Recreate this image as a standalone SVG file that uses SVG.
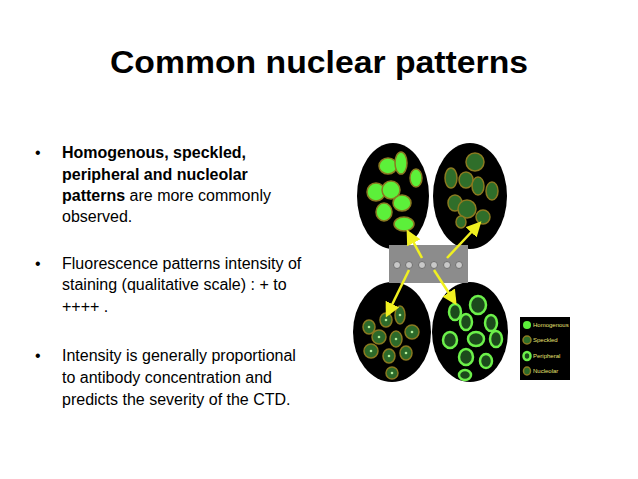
<svg xmlns="http://www.w3.org/2000/svg" width="638" height="479" viewBox="0 0 638 479">
<style>
.t{font-family:"Liberation Sans",Arial,sans-serif;font-size:16px;fill:#000}
.b{font-weight:bold}
.h{fill:#5cf03a;stroke:#8a7a20;stroke-width:1.5}
.s{fill:#2f6e2a;stroke:#8a7a20;stroke-width:1.5}
.p{fill:#1c4a1c;stroke:#6cf04a;stroke-width:2.5}
.n{fill:#2d6a2a;stroke:#8a7a20;stroke-width:1.5}
.d{fill:#b8f0a0}
.ar{stroke:#f0f020;stroke-width:2.5;fill:none;marker-end:url(#ah)}
.lg{font-family:"Liberation Sans",Arial,sans-serif;font-size:6px;fill:#e8e070}
</style>
<defs><marker id="ah" markerWidth="6" markerHeight="6" refX="4" refY="3" orient="auto"><path d="M0,0L6,3L0,6z" fill="#f0f020"/></marker></defs>
<rect width="638" height="479" fill="#fff"/>
<text x="110" y="73" textLength="418" lengthAdjust="spacingAndGlyphs" font-family="'Liberation Sans',Arial,sans-serif" font-weight="bold" font-size="32">Common nuclear patterns</text>
<g id="bullets">
<text class="t" x="35" y="158">•</text>
<text class="t" x="62" y="158"><tspan class="b">Homogenous, speckled,</tspan></text>
<text class="t" x="62" y="180"><tspan class="b">peripheral and nucleolar</tspan></text>
<text class="t" x="62" y="201"><tspan class="b">patterns</tspan> are more commonly</text>
<text class="t" x="62" y="222">observed.</text>
<text class="t" x="35" y="269">•</text>
<text class="t" x="62" y="269">Fluorescence patterns intensity of</text>
<text class="t" x="62" y="290">staining (qualitative scale) : + to</text>
<text class="t" x="62" y="312">++++ .</text>
<text class="t" x="35" y="361">•</text>
<text class="t" x="62" y="361">Intensity is generally proportional</text>
<text class="t" x="62" y="383">to antibody concentration and</text>
<text class="t" x="62" y="405">predicts the severity of the CTD.</text>
</g>
<g id="figure">
<ellipse cx="393" cy="196" rx="36" ry="53"/>
<ellipse cx="470" cy="196" rx="37" ry="53"/>
<ellipse cx="392" cy="332" rx="39" ry="50"/>
<ellipse cx="470" cy="332" rx="38" ry="50"/>
<g id="homog">
<ellipse class="h" cx="376" cy="192" rx="9" ry="9"/><ellipse class="h" cx="388" cy="166" rx="9" ry="8"/>
<ellipse class="h" cx="401" cy="163" rx="6" ry="11"/><ellipse class="h" cx="416" cy="178" rx="6" ry="9"/>
<ellipse class="h" cx="391" cy="190" rx="9" ry="9"/><ellipse class="h" cx="402" cy="203" rx="9" ry="8"/>
<ellipse class="h" cx="384" cy="212" rx="8" ry="9"/><ellipse class="h" cx="404" cy="224" rx="10" ry="7"/>
</g>
<g id="speck">
<ellipse class="s" cx="475" cy="162" rx="9" ry="9"/><ellipse class="s" cx="451" cy="178" rx="6" ry="10"/>
<ellipse class="s" cx="466" cy="180" rx="7" ry="8"/><ellipse class="s" cx="478" cy="186" rx="6" ry="9"/>
<ellipse class="s" cx="492" cy="191" rx="6" ry="9"/><ellipse class="s" cx="455" cy="203" rx="7" ry="8"/>
<ellipse class="s" cx="467" cy="209" rx="9" ry="9"/><ellipse class="s" cx="461" cy="222" rx="5" ry="6"/>
<ellipse class="s" cx="483" cy="217" rx="7" ry="7"/>
</g>
<g id="nucl">
<ellipse class="n" cx="386" cy="320" rx="6" ry="7"/><ellipse class="n" cx="400" cy="315" rx="5" ry="9"/>
<ellipse class="n" cx="369" cy="327" rx="6" ry="7"/><ellipse class="n" cx="379" cy="337" rx="7" ry="7"/>
<ellipse class="n" cx="396" cy="339" rx="6" ry="8"/><ellipse class="n" cx="412" cy="332" rx="7" ry="7"/>
<ellipse class="n" cx="371" cy="351" rx="7" ry="7"/><ellipse class="n" cx="389" cy="356" rx="6" ry="7"/>
<ellipse class="n" cx="406" cy="353" rx="6" ry="7"/><ellipse class="n" cx="392" cy="373" rx="6" ry="6"/>
<g class="d"><circle cx="386" cy="320" r="1.3"/><circle cx="400" cy="315" r="1.3"/><circle cx="369" cy="327" r="1.3"/><circle cx="379" cy="337" r="1.3"/><circle cx="396" cy="339" r="1.3"/><circle cx="412" cy="332" r="1.3"/><circle cx="371" cy="351" r="1.3"/><circle cx="389" cy="356" r="1.3"/><circle cx="406" cy="353" r="1.3"/><circle cx="392" cy="373" r="1.3"/></g>
</g>
<g id="periph">
<ellipse class="p" cx="455" cy="312" rx="6" ry="8"/><ellipse class="p" cx="478" cy="305" rx="8" ry="9"/>
<ellipse class="p" cx="466" cy="322" rx="6" ry="8"/><ellipse class="p" cx="491" cy="323" rx="6" ry="8"/>
<ellipse class="p" cx="450" cy="340" rx="7" ry="8"/><ellipse class="p" cx="476" cy="339" rx="8" ry="7"/>
<ellipse class="p" cx="496" cy="339" rx="6" ry="8"/><ellipse class="p" cx="466" cy="357" rx="7" ry="8"/>
<ellipse class="p" cx="486" cy="361" rx="6" ry="7"/><ellipse class="p" cx="465" cy="375" rx="6" ry="5"/>
</g>
<rect x="389" y="245" width="79" height="38" fill="#8c8c8c"/>
<g fill="#c8c8c8" stroke="#707070" stroke-width="1">
<circle cx="397" cy="265" r="3.5"/><circle cx="409" cy="265" r="3.5"/><circle cx="422" cy="265" r="3.5"/><circle cx="434" cy="265" r="3.5"/><circle cx="447" cy="265" r="3.5"/><circle cx="459" cy="265" r="3.5"/>
</g>
</g>
<g id="connectors">
<line class="ar" x1="422" y1="258" x2="409" y2="234"/>
<line class="ar" x1="447" y1="258" x2="478" y2="225"/>
<line class="ar" x1="409" y1="270" x2="388" y2="313"/>
<line class="ar" x1="434" y1="270" x2="454" y2="301"/>
</g>
<g id="legend">
<rect x="520" y="317" width="50" height="63" fill="#000"/>
<ellipse cx="527" cy="325" rx="4" ry="4" fill="#5cf03a"/><text class="lg" x="533" y="327">Homogenous</text>
<ellipse cx="527" cy="340" rx="4" ry="4" class="s"/><text class="lg" x="533" y="342">Speckled</text>
<ellipse cx="527" cy="356" rx="3.5" ry="4" class="p"/><text class="lg" x="533" y="358">Peripheral</text>
<ellipse cx="527" cy="371" rx="3.5" ry="4" class="n"/><text class="lg" x="533" y="373">Nucleolar</text>
</g>
</svg>
